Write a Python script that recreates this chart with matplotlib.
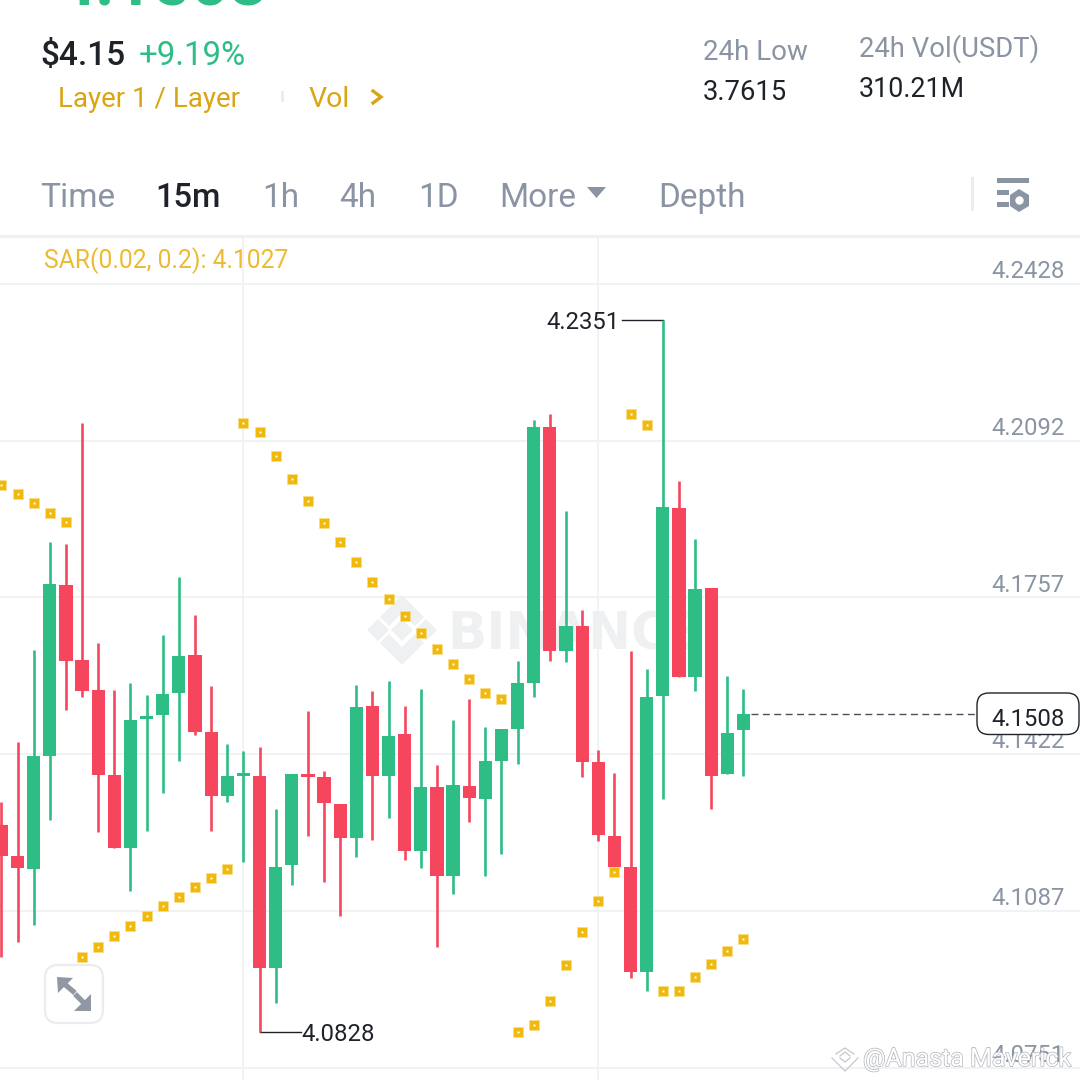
import matplotlib
matplotlib.use('Agg')
import matplotlib.pyplot as plt
import matplotlib.patheffects as pe
from matplotlib.patches import FancyBboxPatch, Polygon, Rectangle, Circle
import numpy as np

plt.rcParams['font.family'] = ['Roboto', 'DejaVu Sans']

# candle values, oldest first
opens = [4.1271, 4.1205, 4.1177, 4.1419, 4.1783, 4.1623, 4.1559, 4.1377, 4.1222, 4.1498, 4.1506, 4.1553, 4.1633, 4.1470, 4.1333,
         4.1376, 4.1375, 4.0965, 4.1184, 4.1379, 4.1373, 4.1315, 4.1243, 4.1524, 4.1375, 4.1465, 4.1214, 4.1352, 4.1162, 4.1354,
         4.1326, 4.1408, 4.1476, 4.1574, 4.2122, 4.1643, 4.1695, 4.1405, 4.1247, 4.1181, 4.0957, 4.1546, 4.1948, 4.1587, 4.1777,
         4.1380, 4.1473]
closes = [4.1204, 4.1178, 4.1418, 4.1786, 4.1621, 4.1558, 4.1377, 4.1221, 4.1495, 4.1504, 4.1550, 4.1632, 4.1470, 4.1333, 4.1375,
          4.1382, 4.0965, 4.1181, 4.1380, 4.1373, 4.1317, 4.1243, 4.1523, 4.1375, 4.1461, 4.1214, 4.1352, 4.1162, 4.1355, 4.1328,
          4.1408, 4.1475, 4.1574, 4.2122, 4.1643, 4.1695, 4.1405, 4.1249, 4.1181, 4.0956, 4.1544, 4.1950, 4.1587, 4.1775, 4.1375,
          4.1467, 4.1508]
highs = [4.1320, 4.1448, 4.1645, 4.1876, 4.1871, 4.2130, 4.1660, 4.1559, 4.1575, 4.1549, 4.1677, 4.1800, 4.1720, 4.1568, 4.1443,
         4.1428, 4.1437, 4.1304, 4.1380, 4.1515, 4.1386, 4.1315, 4.1569, 4.1556, 4.1578, 4.1524, 4.1562, 4.1398, 4.1495, 4.1539,
         4.1479, 4.1475, 4.1621, 4.2136, 4.2149, 4.1942, 4.1730, 4.1430, 4.1382, 4.1643, 4.1604, 4.2351, 4.2006, 4.1881, 4.1777,
         4.1589, 4.1561]
lows = [4.0988, 4.1020, 4.1057, 4.1281, 4.1516, 4.1544, 4.1256, 4.1221, 4.1130, 4.1258, 4.1338, 4.1408, 4.1464, 4.1258, 4.1319,
        4.1191, 4.0828, 4.0891, 4.1142, 4.1246, 4.1149, 4.1075, 4.1202, 4.1239, 4.1286, 4.1196, 4.1179, 4.1010, 4.1124, 4.1278,
        4.1162, 4.1208, 4.1402, 4.1545, 4.1621, 4.1618, 4.1374, 4.1236, 4.1181, 4.0944, 4.0916, 4.1327, 4.1587, 4.1558, 4.1305,
        4.1380, 4.1375]
sar = [4.1998, 4.1978, 4.1958, 4.1938, 4.1919, 4.0988, 4.1010, 4.1033, 4.1055, 4.1076, 4.1097, 4.1117, 4.1138, 4.1158, 4.1177,
       4.2130, 4.2111, 4.2060, 4.2010, 4.1963, 4.1917, 4.1875, 4.1832, 4.1791, 4.1754, 4.1717, 4.1681, 4.1647, 4.1614, 4.1583,
       4.1553, 4.1539, 4.0827, 4.0843, 4.0895, 4.0971, 4.1041, 4.1108, 4.1170, 4.2149, 4.2125, 4.0916, 4.0916, 4.0945, 4.0973,
       4.1001, 4.1027]
price_ticks = [4.2428, 4.2092, 4.1757, 4.1422, 4.1087, 4.0751]
time_grid = [15, 37]
last_price = 4.1508
hi_price = 4.2351
hi_idx = 41
lo_price = 4.0828
lo_idx = 16

tabs = ['Time', '15m', '1h', '4h', '1D', 'More', 'Depth']

GREEN = '#2EBD85'
RED = '#F6465D'
GOLD = '#D9A514'
YELLOW = '#F0B90B'
DARK = '#1E2329'
GREY = '#8A94A3'
LINE = '#EFF1F3'
MARK = '#EEF0F1'

fig = plt.figure(figsize=(10.8, 10.8), dpi=100, facecolor='white')

# pixel layer under the chart, everything in screenshot coordinates
ui = fig.add_axes([0, 0, 1, 1], zorder=0)
ui.set_xlim(0, 1080)
ui.set_ylim(1080, 0)
ui.axis('off')

# chart itself, transparent so the watermark shows through
ax = fig.add_axes([0, 0, 1, 842 / 1080], zorder=1)
ax.patch.set_alpha(0)
for s in ax.spines.values():
    s.set_visible(False)
ax.set_xticks([])
ax.set_yticks([])
step = 16.13
ax.set_xlim(-1.45 / step, (1080 - 1.45) / step)
pp = 0.0002138
ax.set_ylim(4.0751 - 12 * pp, 4.0751 + 830 * pp)

# top layer for the price pill and the repost tag
top = fig.add_axes([0, 0, 1, 1], zorder=2)
top.set_xlim(0, 1080)
top.set_ylim(1080, 0)
top.axis('off')
top.patch.set_alpha(0)


def label(x, y, s, size, color, weight='normal', ha='left'):
    return ui.text(x, y, s, fontsize=size, color=color, fontweight=weight, ha=ha, va='baseline')


# header
label(57, 5, '4.1508', 48, GREEN, 'bold')
label(40, 65, '$4.15', 24, DARK, 'medium')
label(139, 65, '+9.19%', 23.8, GREEN)
label(58, 107, 'Layer 1 / Layer', 20, GOLD)
ui.add_patch(Rectangle((281, 91), 3, 11, color='#EAECEF', lw=0))
label(309, 107, 'Vol', 20.5, GOLD)
ui.plot([373, 381, 373], [91, 97, 103], color=GOLD, lw=2.4, solid_joinstyle='miter')
label(703, 60, '24h Low', 20, GREY)
label(859, 57, '24h Vol(USDT)', 19.8, GREY)
label(703, 100, '3.7615', 19.7, DARK)
label(859, 97, '310.21M', 19.4, DARK)

# tab row
tab_x = [40, 155, 262, 339, 418, 499, 658]
for name, x in zip(tabs, tab_x):
    if name == '15m':
        label(x, 207, name, 23.5, DARK, 'medium')
    else:
        label(x, 207, name, 24, GREY)
ui.add_patch(Polygon([[587, 187], [606, 187], [596.5, 198]], color=GREY, lw=0))
ui.add_patch(Rectangle((971, 177), 3, 34, color='#EAECEF', lw=0))
ui.add_patch(Rectangle((997, 178), 32, 5, color=GREY, lw=0))
ui.add_patch(Rectangle((997, 190), 12, 5, color=GREY, lw=0))
ui.add_patch(Rectangle((997, 202), 12, 5, color=GREY, lw=0))
ui.add_patch(Polygon([[1019, 189], [1029, 195], [1029, 206], [1019, 212], [1010, 206], [1010, 195]], color=GREY, lw=0))
ui.add_patch(Circle((1019.5, 200.5), 4.2, color='white', lw=0))
ui.add_patch(Rectangle((0, 235), 1080, 3, color=LINE, lw=0))

# BINANCE mark behind the candles
cx, cy = 402, 630
mark_shapes = [
    [[0, -11], [11, 0], [0, 11], [-11, 0]],
    [[-24, -11], [-13, 0], [-24, 11], [-35, 0]],
    [[24, -11], [35, 0], [24, 11], [13, 0]],
    [[0, -35], [22, -13], [13, -4], [0, -17], [-13, -4], [-22, -13]],
    [[0, 35], [22, 13], [13, 4], [0, 17], [-13, 4], [-22, 13]],
]
for pts in mark_shapes:
    ui.add_patch(Polygon([[cx + a, cy + b] for a, b in pts], color=MARK, lw=0))
ui.text(447, 649, 'BINANCE', fontsize=37, color=MARK, fontweight='bold', ha='left', va='baseline', family='DejaVu Sans')

# grid
for t in price_ticks:
    ax.axhline(t, color=LINE, lw=1.3, zorder=1)
for i in time_grid:
    ax.axvline(i, color=LINE, lw=1.3, zorder=1)

# candles
x = np.arange(len(opens))
o = np.array(opens)
c = np.array(closes)
colors = [GREEN if b >= a else RED for a, b in zip(opens, closes)]
ax.vlines(x, lows, highs, colors=colors, lw=1.9, zorder=3)
ax.bar(x, np.abs(c - o), bottom=np.minimum(o, c), width=0.82, color=colors, lw=0, zorder=4)

# SAR dots
ax.plot(x, sar, ls='none', marker='s', ms=6.6, mfc=YELLOW, mec='#F7DE8E', mew=0.5, zorder=5)
ax.plot(x, sar, ls='none', marker='s', ms=1.9, mfc='white', mec='none', zorder=6)

ax.text(0.0407, 0.9644, 'SAR(0.02, 0.2): 4.1027', transform=ax.transAxes, fontsize=17.7, color='#ECBB33',
        ha='left', va='baseline', zorder=6)

# price axis labels sit just over their grid lines
for t in price_ticks:
    ax.annotate('%.4f' % t, xy=(1065 / 1080, t), xycoords=('axes fraction', 'data'), xytext=(0, 4.2),
                textcoords='offset points', ha='right', va='baseline', fontsize=17.2, color=GREY, zorder=2)

# high / low callouts
ax.plot([hi_idx, hi_idx - 2.55], [hi_price, hi_price], color=DARK, lw=1, zorder=2)
ax.text(hi_idx - 2.68, hi_price, '%.4f' % hi_price, fontsize=17.2, color=DARK, ha='right', va='center_baseline')
ax.plot([lo_idx, lo_idx + 2.55], [lo_price, lo_price], color=DARK, lw=1, zorder=2)
ax.text(lo_idx + 2.62, lo_price, '%.4f' % lo_price, fontsize=17.2, color=DARK, ha='left', va='center_baseline')

# last price line and pill
ax.plot([x[-1] + 0.45, 60.5], [last_price, last_price], color='#4A515C', lw=1, dashes=(5, 3.2), zorder=2)
pill = FancyBboxPatch((977, 693), 102, 41.5, boxstyle='round,pad=0,rounding_size=12', fc='white', ec=DARK, lw=1)
top.add_patch(pill)
top.text(1065, 726, '%.4f' % last_price, fontsize=17.2, color=DARK, ha='right', va='baseline')

# expand button
top.add_patch(FancyBboxPatch((45, 965), 58, 58, boxstyle='round,pad=0,rounding_size=13', fc='white', ec='#EAECEF', lw=1.6))
top.add_patch(Polygon([[57, 977], [73, 978], [58, 993]], color='#9197A3', lw=0))
top.plot([62, 75], [982, 993], color='#9197A3', lw=3.8, solid_capstyle='butt')
top.add_patch(Polygon([[91, 1011], [74, 1011], [91, 994]], color='#9197A3', lw=0))
top.plot([75, 86], [994, 1005], color='#9197A3', lw=3.8, solid_capstyle='butt')

# repost tag
tag = top.text(863, 1066, '@Anasta Maverick', fontsize=18, color='white', ha='left', va='baseline', zorder=5)
tag.set_path_effects([pe.withStroke(linewidth=1.1, foreground='#B7BABF')])
tag_lines = [
    [[836, 845, 854], [1054, 1048, 1054]],
    [[840, 845, 850], [1056, 1052, 1056]],
    [[840, 845, 850], [1058, 1062, 1058]],
    [[832, 845, 858], [1058, 1071, 1058]],
]
for lx, ly in tag_lines:
    top.plot(lx, ly, color='#C4C7CC', lw=0.9, zorder=5)

plt.savefig('out.png', dpi=100)
